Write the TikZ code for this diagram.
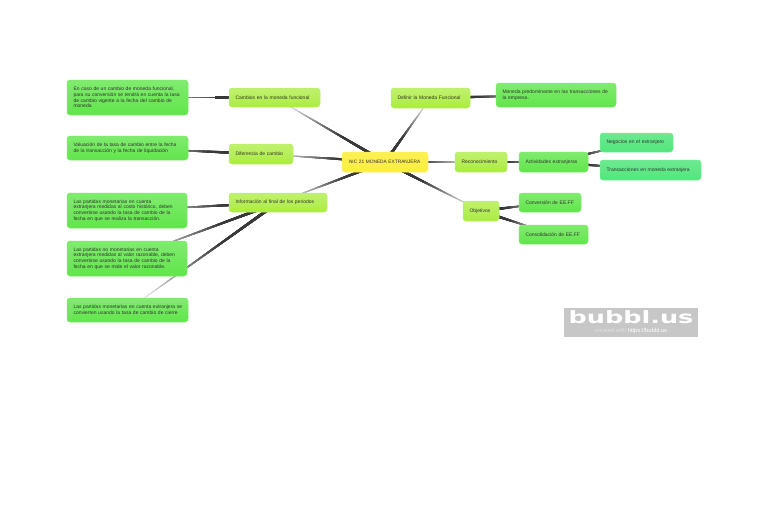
\documentclass[tikz,border=0pt]{standalone}
\usepackage{fontspec}
\setmainfont{Liberation Sans}
\newfontfamily\logofont{DejaVu Sans}
\usetikzlibrary{calc,backgrounds}
\tikzset{
  bubble/.style={rounded corners=3pt,draw=#1!80!white,line width=0.5pt,inner xsep=6.5pt,inner ysep=0pt,
    font=\fontsize{5}{5.7}\selectfont,text=black!80,align=left,anchor=center},
  root/.style={bubble=rootyellow,top color=rootyellow!90!white,bottom color=rootyellow},
  lime/.style={bubble=limegreen,top color=limegreen!75!white,bottom color=limegreen},
  leaf/.style={bubble=leafgreen,top color=leafgreen!80!white,bottom color=leafgreen},
  mint/.style={bubble=mintgreen,top color=mintgreen!85!white,bottom color=mintgreen},
}
\definecolor{rootyellow}{HTML}{FCEE40}
\definecolor{limegreen}{HTML}{ABEC40}
\definecolor{leafgreen}{HTML}{60E64A}
\definecolor{mintgreen}{HTML}{52E67C}
\newcommand{\taper}[2]{%
  \begin{pgfonlayer}{background}
  \foreach \s in {32,...,1}{
    \pgfmathsetmacro\ta{\s/32}
    \pgfmathsetmacro\mix{min(78,max(10,78-136*(\ta-0.4)))}
    \pgfmathsetmacro\wid{3.2-2.8*\ta}
    \draw[line width=\wid pt,draw=black!\mix] (#1.center) -- ($(#1.center)!\ta!(#2.center)$);
  }
  \end{pgfonlayer}}
\begin{document}
\begin{tikzpicture}[x=1pt,y=-1pt]
\useasboundingbox (0,0) rectangle (768,523);

%Depth 0
\node[root,inner xsep=7pt,text width=72pt,minimum height=20pt,font=\fontsize{4.8}{5}\selectfont] (nic) at (385,162) {NIC 21 MONEDA EXTRANJERA};

%Depth 1
\node[lime,text width=78pt,minimum height=19pt] (cambios) at (274.5,97.5) {Cambios en la moneda funcional};
\node[lime,text width=51pt,minimum height=20pt] (diferencia) at (261,154) {Diferencia de cambio};
\node[lime,text width=85pt,minimum height=19pt] (informacion) at (278,202.5) {Información al final de los periodos};
\node[lime,text width=66pt,minimum height=20pt] (definir) at (430.5,98) {Definir la Moneda Funcional};
\node[lime,text width=39pt,minimum height=20pt] (reconocimiento) at (481,162) {Reconocimiento};
\node[lime,text width=23pt,minimum height=20pt] (objetivos) at (481,211) {Objetivos};

%Depth 2
\node[leaf,text width=108pt,minimum height=35pt] (enCaso) at (127.5,97.5) {En caso de un cambio de moneda funcional,\\para su conversión se tendrá en cuenta la tasa\\de cambio vigente a la fecha del cambio de\\moneda};
\node[leaf,text width=108pt,minimum height=24pt] (valuacion) at (127.5,148) {Valuación de la tasa de cambio entre la fecha\\de la transacción y la fecha de liquidación};
\node[leaf,text width=107pt,minimum height=35pt] (partidasA) at (127,210.5) {Las partidas monetarias en cuenta\\extranjera medidas al costo histórico, deben\\convertirse usando la tasa de cambio de la\\fecha en que se realiza la transacción.};
\node[leaf,text width=107pt,minimum height=35pt] (partidasB) at (127,258.5) {Las partidas no monetarias en cuenta\\extranjera medidas al valor razonable, deben\\convertirse usando la tasa de cambio de la\\fecha en que se mide el valor razonable.};
\node[leaf,inner xsep=4.5pt,text width=112pt,minimum height=24pt] (partidasC) at (127.5,310) {\hspace{2pt}Las partidas monetarias en cuenta extranjera se\\\hspace*{2pt}convierten usando la tasa de cambio de cierre};
\node[leaf,text width=107pt,minimum height=24pt] (moneda) at (556,95) {Moneda predominante en las transacciones de\\la empresa.};
\node[leaf,text width=56pt,minimum height=20pt] (actividades) at (553.5,162) {Actividades extranjeras};
\node[leaf,text width=49pt,minimum height=19pt] (conversion) at (550,202.5) {Conversión de EE.FF};
\node[leaf,text width=56pt,minimum height=19pt] (consolidacion) at (553.5,234.5) {Consolidación de EE.FF};

%Depth 3
\node[mint,text width=60pt,minimum height=19pt] (negocios) at (636.5,142.5) {Negocios en el extranjero};
\node[mint,text width=88pt,minimum height=20pt] (transacciones) at (650.5,170) {Transacciones en moneda extranjera};

%Connectors
\taper{nic}{cambios}
\taper{nic}{diferencia}
\taper{nic}{informacion}
\taper{nic}{definir}
\taper{nic}{reconocimiento}
\taper{nic}{objetivos}
\taper{cambios}{enCaso}
\taper{diferencia}{valuacion}
\taper{informacion}{partidasA}
\taper{informacion}{partidasB}
\taper{informacion}{partidasC}
\taper{definir}{moneda}
\taper{reconocimiento}{actividades}
\taper{actividades}{negocios}
\taper{actividades}{transacciones}
\taper{objetivos}{conversion}
\taper{objetivos}{consolidacion}

%Logo
\node[fill=black!22,minimum width=134pt,minimum height=29pt,inner sep=0pt] (logo) at (631,322.5) {};
\node[text=white,font=\logofont\bfseries\fontsize{17}{17}\selectfont,inner sep=0pt,xscale=1.5,transform shape] (logoName) at (631,317) {bubbl.us};
\node[text=white,font=\fontsize{5.8}{6}\selectfont,inner sep=0pt] (logoLink) at (631,330.5) {\textcolor{black!12}{created with} https://bubbl.us};
\end{tikzpicture}
\end{document}
